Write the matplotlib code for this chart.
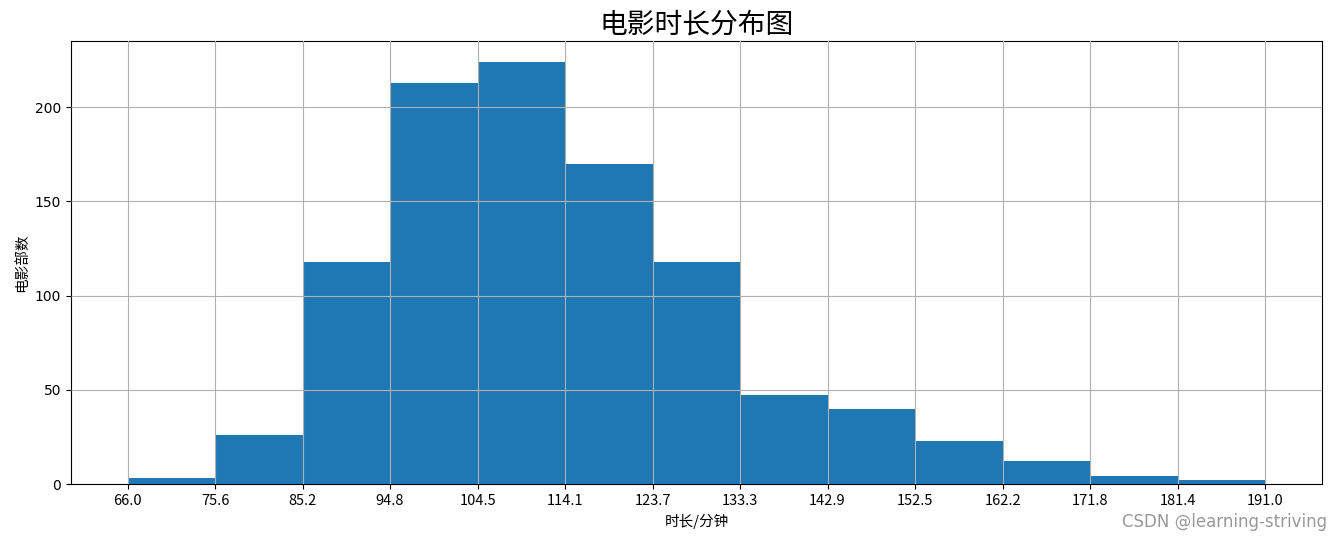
import numpy as np
import matplotlib
matplotlib.use("Agg")
import matplotlib.pyplot as plt

plt.rcParams['font.family'] = ['Noto Sans CJK SC', 'DejaVu Sans']
plt.rcParams['axes.unicode_minus'] = False

# bin edges and counts per bin
bin_edges = [66.0, 75.6, 85.2, 94.8, 104.5, 114.1, 123.7, 133.3,
             142.9, 152.5, 162.2, 171.8, 181.4, 191.0]
counts = [3, 26, 118, 213, 224, 170, 118, 47, 40, 23, 12, 4, 2]
tick_labels = ["66.0", "75.6", "85.2", "94.8", "104.5", "114.1", "123.7",
               "133.3", "142.9", "152.5", "162.2", "171.8", "181.4", "191.0"]

fig = plt.figure(figsize=(13.44, 5.41), dpi=100)
ax = fig.add_axes([71/1344, 1 - 484/541, (1322-71)/1344, (484-41)/541])

# histogram from the counts: one sample per bin weighted by its count
mids = [(a + b) / 2 for a, b in zip(bin_edges[:-1], bin_edges[1:])]
ax.hist(mids, bins=bin_edges, weights=counts, color='#1f77b4')

ax.set_xticks(bin_edges)
ax.set_xticklabels(tick_labels, fontsize=10.5)
for lbl in ax.get_yticklabels():
    lbl.set_family(['DejaVu Sans'])
ax.grid(True, color='#b0b0b0', linewidth=0.8)
ax.set_axisbelow(False)

ax.set_title("电影时长分布图", fontsize=20)
ax.set_xlabel("时长/分钟", fontsize=10.5)
ax.set_ylabel("电影部数", fontsize=10.5)

fig.text(1327/1344, 1 - 522/541, "CSDN @learning-striving", ha='right', va='center',
         fontsize=12, color='#999999', family=['DejaVu Sans'])

fig.savefig("out.png", dpi=100)
